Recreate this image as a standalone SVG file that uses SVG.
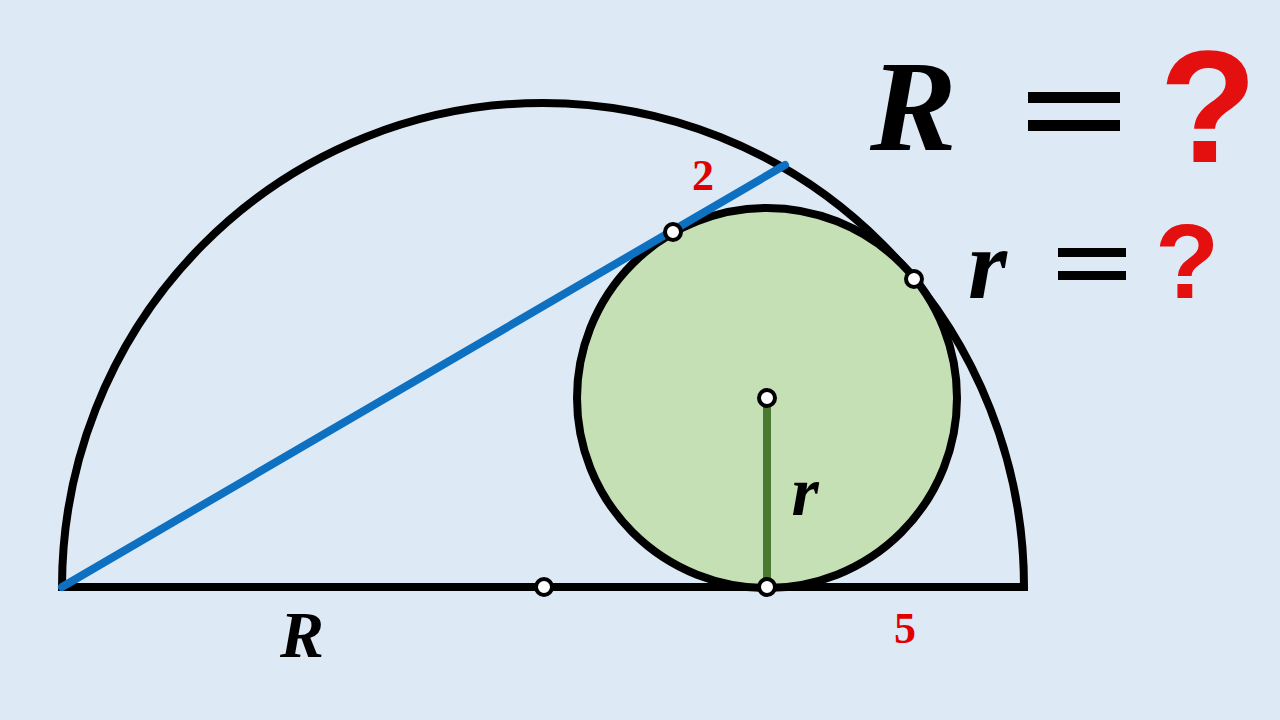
<svg xmlns="http://www.w3.org/2000/svg" width="1280" height="720" viewBox="0 0 1280 720">
<style>
.pt{fill:#fff;stroke:#000;stroke-width:4}
.m{font-family:"Liberation Serif",serif;font-weight:bold;font-style:italic;fill:#000}
.n{font-family:"Liberation Serif",serif;font-weight:bold;fill:#e00000}
.q{font-family:"Liberation Sans",sans-serif;font-weight:bold;fill:#e41010}
</style>
<rect width="1280" height="720" fill="#dde9f5"/>
<g id="semicircle"><path d="M62,587 A481,484 0 0 1 1024,587 Z" fill="none" stroke="#000" stroke-width="8"/></g>
<g id="incircle"><circle cx="767" cy="398" r="190" fill="#c6e0b6" stroke="#000" stroke-width="8"/></g>
<g id="connectors">
<line x1="62" y1="587" x2="785" y2="165" stroke="#0e70c0" stroke-width="8" stroke-linecap="round"/>
<line x1="767" y1="398" x2="767" y2="587" stroke="#4a7a30" stroke-width="8"/>
</g>
<g id="points">
<circle class="pt" cx="673" cy="232" r="8"/>
<circle class="pt" cx="914" cy="279" r="8"/>
<circle class="pt" cx="767" cy="398" r="8"/>
<circle class="pt" cx="544" cy="587" r="8"/>
<circle class="pt" cx="767" cy="587" r="8"/>
</g>
<g id="labels">
<text class="n" x="703" y="190" font-size="44" text-anchor="middle">2</text>
<text class="n" x="905" y="643" font-size="44" text-anchor="middle">5</text>
<text class="m" x="302" y="657" font-size="66" text-anchor="middle">R</text>
<text class="m" x="805" y="515" font-size="70" text-anchor="middle">r</text>
<text class="m" x="870" y="150" font-size="130">R</text>
<rect x="1028" y="92" width="92" height="11"/>
<rect x="1028" y="120" width="92" height="11"/>
<text class="q" x="1208" y="162" font-size="160" text-anchor="middle">?</text>
<text class="m" x="968" y="298" font-size="100">r</text>
<rect x="1058" y="248" width="68" height="9"/>
<rect x="1058" y="271" width="68" height="9"/>
<text class="q" x="1187" y="298" font-size="105" text-anchor="middle">?</text>
</g>
</svg>
